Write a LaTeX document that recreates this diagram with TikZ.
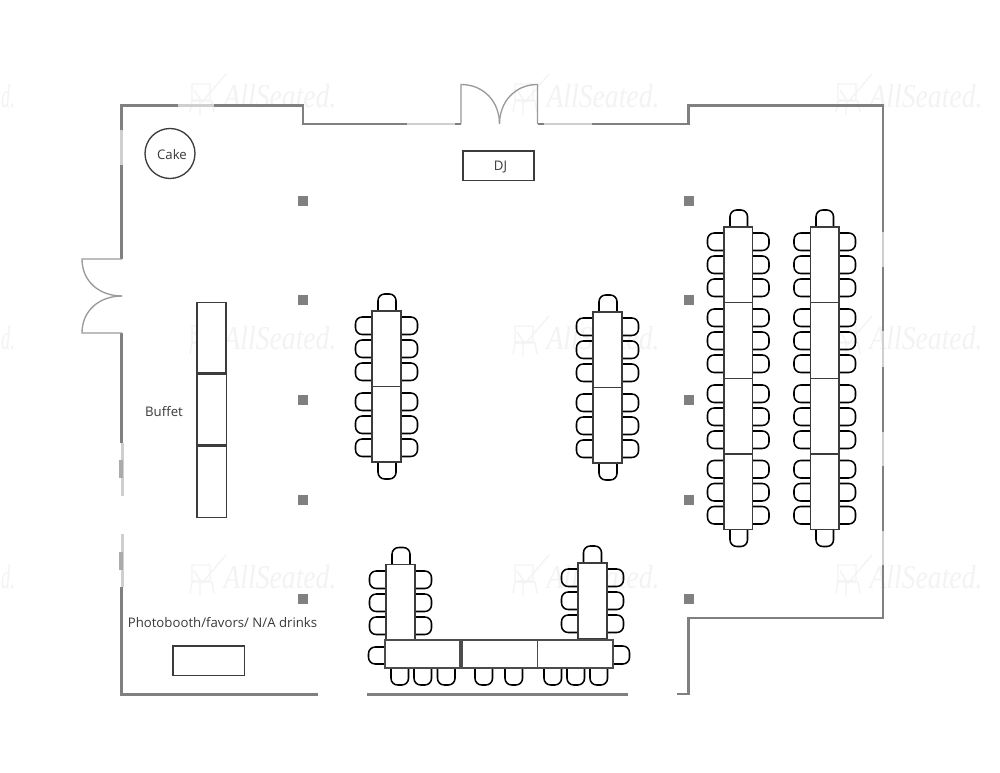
\documentclass[tikz,border=0pt]{standalone}
\usepackage{fontspec}
\setmainfont{Open Sans}
\newfontfamily\wmfont{Liberation Serif}
\definecolor{wallc}{HTML}{808080}
\definecolor{winc}{HTML}{CFCFCF}
\definecolor{midc}{HTML}{ABABAB}
\definecolor{doorc}{HTML}{9A9A9A}
\definecolor{tablec}{HTML}{3C3C3C}
\definecolor{inkc}{HTML}{3A3A3A}
\definecolor{wmc}{HTML}{F3F3F3}
\tikzset{
  wall/.style={draw=wallc,line width=2.2pt,line cap=butt,line join=miter},
  win/.style={draw=winc,line width=1.6pt},
  midseg/.style={draw=midc,line width=2.4pt},
  door/.style={draw=doorc,line width=1pt},
  chair/.style={draw=black,line width=1.15pt,rounded corners=5pt},
  tbl/.style={draw=tablec,line width=1pt,fill=white},
  divline/.style={draw=tablec,line width=1.4pt},
  column/.style={fill=wallc,draw=none,minimum size=7.5pt,inner sep=0pt},
  label/.style={text=inkc,font=\fontsize{9.9pt}{11pt}\selectfont,inner sep=0pt},
  wmark/.style={text=wmc,font=\wmfont\itshape\fontsize{25pt}{25pt}\selectfont,inner sep=0pt,xscale=.83,transform shape},
  wmedge/.style={text=wmc,font=\wmfont\itshape\fontsize{25pt}{25pt}\selectfont,inner sep=0pt,xscale=.55,transform shape},
  wmchair/.style={draw=wmc,line width=1pt},
}
\newcommand{\chairL}[3]{\draw[chair] (#1,#2) -- ++(-16.5,0) -- ++(0,#3) -- ++(16.5,0);}
\newcommand{\chairR}[3]{\draw[chair] (#1,#2) -- ++(16.5,0) -- ++(0,#3) -- ++(-16.5,0);}
\newcommand{\chairT}[3]{\draw[chair] (#1,#2) -- ++(0,-17) -- ++(#3,0) -- ++(0,17);}
\newcommand{\chairB}[3]{\draw[chair] (#1,#2) -- ++(0,17) -- ++(#3,0) -- ++(0,-17);}
\newcommand{\sidechairs}[3]{%
  \foreach \o in {6,29,52}{
    \chairL{#1}{#3+\o}{17.5}
    \chairR{#2}{#3+\o}{17.5}
  }}
\newcommand{\wmk}[3]{%
  \node[wmark] (#3) at (#1,#2) {AllSeated.};
  \draw[wmchair] (#1-88,#2-12) -- ++(18,0) -- ++(0,16) -- ++(-18,0) -- cycle
    (#1-86,#2-6) -- ++(8,12) -- ++(24,-28)
    (#1-90,#2+16) -- ++(2,-11) -- ++(20,0) -- ++(2,11)
    (#1-80,#2+5) -- ++(0,14);
}
\begin{document}
\begin{tikzpicture}[x=0.75pt,y=-0.75pt]
\useasboundingbox (0,0) rectangle (1000,773);
\fill[white] (0,0) rectangle (1000,773);

% watermarks
\wmk{280}{96}{wa}\wmk{603}{96}{wb}\wmk{926}{96}{wc}
\wmk{280}{338}{wd}\wmk{603}{338}{we}\wmk{926}{338}{wf}
\wmk{280}{577}{wg}\wmk{603}{577}{wh}\wmk{926}{577}{wi}
\node[wmedge,anchor=west] (wj) at (1,96) {d.};
\node[wmedge,anchor=west] (wk) at (1,338) {d.};
\node[wmedge,anchor=west] (wl) at (1,577) {d.};

% walls: dark runs
\draw[wall] (121.5,130) -- (121.5,105.5) -- (178,105.5);
\draw[wall] (214,105.5) -- (303,105.5) -- (303,124) -- (407,124);
\draw[wall] (455,124) -- (461,124);
\draw[wall] (537.5,124) -- (544,124);
\draw[wall] (592,124) -- (688.5,124) -- (688.5,105.5) -- (883,105.5) -- (883,232);
\draw[wall] (883,267) -- (883,331);
\draw[wall] (883,367) -- (883,432);
\draw[wall] (883,466) -- (883,531);
\draw[wall] (883,565) -- (883,618) -- (688.5,618) -- (688.5,694) -- (677,694);
\draw[wall] (121.5,165) -- (121.5,259) ;
\draw[wall] (121.5,333) -- (121.5,443);
\draw[wall] (121.5,587) -- (121.5,694.5) -- (318,694.5);
\draw[wall] (367,694.5) -- (628,694.5);
% walls: windows
\draw[win] (178,105.5) -- (214,105.5);
\draw[win] (407,124) -- (455,124);
\draw[win] (544,124) -- (592,124);
\draw[win] (121.5,130) -- (121.5,165);
\draw[win] (883,232) -- (883,267);
\draw[win] (883,331) -- (883,367);
\draw[win] (883,432) -- (883,466);
\draw[win] (883,531) -- (883,565);
\draw[win] (122.5,443) -- (122.5,496);
\draw[win] (122.5,534) -- (122.5,587);
\draw[midseg] (121,460) -- (121,478);
\draw[midseg] (121,552) -- (121,570);

% doors
\draw[door] (122,259) -- (82,259) .. controls (82,282) and (100,296) .. (122,296);
\draw[door] (122,333) -- (82,333) .. controls (82,310) and (100,296) .. (122,296);
\draw[door] (461,124) -- (461,84.5) .. controls (484,84.5) and (499.5,102) .. (499.5,124);
\draw[door] (537.5,124) -- (537.5,84.5) .. controls (515,84.5) and (499.5,102) .. (499.5,124);

% columns
\foreach \n/\cx/\cy in {ca/303/201,cb/689/201,cc/303/300,cd/689/300,ce/303/400,cf/689/400,cg/303/500,ch/689/500,ci/303/599,cj/689/599}{
  \node[column] (\n) at (\cx,\cy) {};
}

% cake, DJ
\node[draw=tablec,line width=1pt,circle,minimum size=37.5pt,inner sep=0pt] (cake) at (170,153.5) {};
\node[label] (caketxt) at (172,154.5) {Cake};
\draw[tbl] (463,151) rectangle (534,180.5);
\node[label] (dj) at (500.5,167) {DJ};

% buffet
\draw[tbl] (197,302.5) rectangle (226,373);
\draw[tbl] (197,374) rectangle (226.5,444.5);
\draw[tbl] (197,446) rectangle (226.5,517.5);
\node[label] (buffet) at (164,411.5) {Buffet};

% photobooth
\node[label] (photo) at (222.5,622.5) {Photobooth/favors/ N/A drinks};
\draw[tbl] (173,646) rectangle (244.5,675.5);

% centre table A
\sidechairs{372}{401}{311}
\sidechairs{372}{401}{387}
\chairT{378}{311}{18}
\chairB{378}{462}{18}
\draw[tbl] (372,311) rectangle (401,462);
\draw[divline] (372,386.5) -- (401,386.5);

% centre table B
\sidechairs{593}{622}{312}
\sidechairs{593}{622}{388}
\chairT{599}{312}{18}
\chairB{599}{463}{18}
\draw[tbl] (593,312) rectangle (622,463);
\draw[divline] (593,387.5) -- (622,387.5);

% long tables
\foreach \lx/\rx/\hx in {724/752.5/730,810.5/839/816}{
  \sidechairs{\lx}{\rx}{227}
  \sidechairs{\lx}{\rx}{303}
  \sidechairs{\lx}{\rx}{379}
  \sidechairs{\lx}{\rx}{454.5}
  \chairT{\hx}{227}{17.5}
  \chairB{\hx}{529.5}{17.5}
  \draw[tbl] (\lx,227) rectangle (\rx,529.5);
  \draw[divline] (\lx,302.5) -- (\rx,302.5);
  \draw[divline] (\lx,378.5) -- (\rx,378.5);
  \draw[divline] (\lx,454) -- (\rx,454);
}

% U table
\sidechairs{386}{415}{565}
\chairT{392}{564.5}{18}
\draw[tbl] (386,564.5) rectangle (415,640);
\sidechairs{578}{607}{563}
\chairT{583.5}{563}{18}
\draw[tbl] (578,563) rectangle (607,638.5);
\chairL{385}{647}{17}
\chairR{613}{646}{18}
\foreach \bx in {391,414,437.5,475,505,544,567,590}{
  \chairB{\bx}{668}{17.5}
}
\draw[tbl,draw=black!70] (385,640) rectangle (460,668);
\draw[tbl,draw=black!70] (462,640) rectangle (537.5,668);
\draw[tbl,draw=black!70] (537.5,640) rectangle (613,668);
\end{tikzpicture}
\end{document}
